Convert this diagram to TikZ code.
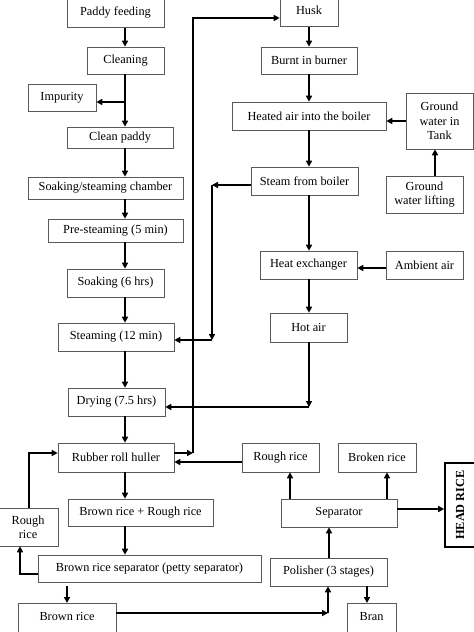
\documentclass[tikz,border=0pt]{standalone}
\usepackage{fontspec}
\setmainfont{Liberation Serif}
\usetikzlibrary{arrows.meta}

\begin{document}
\begin{tikzpicture}[
      x=1pt, y=-1pt,
      font=\fontsize{12.3}{14.4}\selectfont,
      box/.style={draw=black!65, line width=0.6pt, inner sep=0pt, align=center},
      topbox/.style={box, anchor=south, text height=25pt, text depth=12pt},
      botbox/.style={box, anchor=north, text height=17pt, text depth=20pt},
      flow/.style={line width=2pt, -{Triangle[length=6pt,width=6pt]}}
    ]
    \useasboundingbox (0,0) rectangle (474,632);

    % parboiling line (left)
    \node[topbox, minimum width=97] (feed) at (115.5,28) {Paddy feeding};
    \node[box, minimum width=77, minimum height=27] (clean) at (125.5,60.5) {Cleaning};
    \node[box, minimum width=68, minimum height=27] (impur) at (62,97.5) {Impurity};
    \node[box, minimum width=106, minimum height=21] (cpaddy) at (120,137.5) {Clean paddy};
    \node[box, minimum width=155, minimum height=22] (chamber) at (105.5,188) {Soaking/steaming chamber};
    \node[box, minimum width=135, minimum height=23] (prest) at (115.5,230.5) {Pre-steaming (5 min)};
    \node[box, minimum width=97, minimum height=28] (soak) at (115.5,283) {Soaking (6 hrs)};
    \node[box, minimum width=116, minimum height=28] (steam12) at (116,337) {Steaming (12 min)};
    \node[box, minimum width=97, minimum height=28] (dry) at (116.5,402) {Drying (7.5 hrs)};
    \node[box, minimum width=116, minimum height=29] (huller) at (116,457.5) {Rubber roll huller};
    \node[box, minimum width=145, minimum height=27] (brr) at (140.5,512.5) {Brown rice + Rough rice};
    \node[box, minimum width=60, minimum height=38] (roughL) at (28,527) {Rough\\rice};
    \node[box, minimum width=223, minimum height=27] (sep1) at (149.5,568.5) {Brown rice separator (petty separator)};
    \node[botbox, minimum width=98] (brown) at (67,603) {Brown rice};

    % husk / boiler line (right)
    \node[topbox, minimum width=58] (husk) at (309,27) {Husk};
    \node[box, minimum width=96, minimum height=27] (burner) at (309,60.5) {Burnt in burner};
    \node[box, minimum width=154, minimum height=28] (heated) at (309,116) {Heated air into the boiler};
    \node[box, minimum width=67, minimum height=56] (tank) at (439.5,121) {Ground\\water in\\Tank};
    \node[box, minimum width=107, minimum height=28] (steamb) at (304.5,181) {Steam from boiler};
    \node[box, minimum width=77, minimum height=37] (lift) at (424.5,194.5) {Ground\\water lifting};
    \node[box, minimum width=97, minimum height=28] (hx) at (308.5,265) {Heat exchanger};
    \node[box, minimum width=77, minimum height=28] (amb) at (424.5,265) {Ambient air};
    \node[box, minimum width=77, minimum height=29] (hot) at (308.5,327.5) {Hot air};

    % milling (bottom right)
    \node[box, minimum width=77, minimum height=29] (roughR) at (280.5,457.5) {Rough rice};
    \node[box, minimum width=78, minimum height=29] (broken) at (377,457.5) {Broken rice};
    \node[box, minimum width=116, minimum height=28] (sep2) at (339,513) {Separator};
    \node[box, minimum width=117, minimum height=28] (pol) at (328.5,572) {Polisher (3 stages)};
    \node[botbox, minimum width=49] (bran) at (371.5,603) {Bran};
    \node[draw, line width=1.6pt, inner sep=0pt, minimum width=30, minimum height=84]
      (head) at (460,505) {\rotatebox{90}{\bfseries HEAD RICE}};

    % helper coordinates
    \coordinate (spine) at (125,0);
    \coordinate (rspine) at (309,0);
    \coordinate (hd) at (309,407);
    \coordinate (sa) at (212,185);
    \coordinate (sb) at (212,340);
    \coordinate (ha) at (193,453);
    \coordinate (hb) at (193,18);
    \coordinate (wt) at (435,0);
    \coordinate (rr) at (0,462);
    \coordinate (sr) at (290,0);
    \coordinate (sk) at (387,0);
    \coordinate (ps) at (329,0);
    \coordinate (pb) at (367,0);
    \coordinate (bp) at (328,613);
    \coordinate (sl) at (20,574);
    \coordinate (lh) at (29,453);

    % main column
    \foreach \a/\b in {feed/clean, clean/cpaddy, cpaddy/chamber, chamber/prest,
                       prest/soak, soak/steam12, steam12/dry, dry/huller,
                       huller/brr, brr/sep1} {
      \draw[flow] (\a.south -| spine) -- (\b.north -| spine);
    }
    \draw[flow] ([yshift=-4.5pt]impur.east -| spine) -- ([yshift=-4.5pt]impur.east);

    % right column
    \foreach \a/\b in {husk/burner, burner/heated, heated/steamb, steamb/hx, hx/hot} {
      \draw[flow] (\a.south -| rspine) -- (\b.north -| rspine);
    }
    \draw[flow] (tank.west) -- (tank.west -| heated.east);
    \draw[flow] (lift.north -| wt) -- (tank.south -| wt);
    \draw[flow] ([yshift=-3pt]amb.west) -- ([yshift=-3pt]amb.west -| hx.east);

    % heat and steam back to the left
    \draw[flow] (hot.south -| rspine) -- (hd);
    \draw[flow] (hd) -- (hd -| dry.east);
    \draw[flow] (steamb.west |- sa) -- (sa);
    \draw[flow] (sa) -- (sb);
    \draw[flow] (sb) -- (sb -| steam12.east);
    \draw[flow] (huller.east |- ha) -- (ha);
    \draw[flow] (ha) -- (hb) -- (hb -| husk.west);

    % rough rice loops
    \draw[flow] (roughR.west |- rr) -- (huller.east |- rr);
    \draw[flow] (sep1.west |- sl) -- (sl) -- (roughL.south -| sl);
    \draw[flow] (roughL.north -| lh) -- (lh) -- (huller.west |- lh);

    % brown rice to polishing
    \draw[flow] ([yshift=-4pt]sep1.south -| brown.north) -- (brown.north);
    \draw[flow] (brown.east |- bp) -- (bp);
    \draw[flow] (bp) -- (pol.south -| bp);
    \draw[flow] (pol.south -| pb) -- (bran.north -| pb);
    \draw[flow] (pol.north -| ps) -- (sep2.south -| ps);
    \draw[flow] (sep2.north -| sr) -- (roughR.south -| sr);
    \draw[flow] (sep2.north -| sk) -- (broken.south -| sk);
    \draw[flow] ([yshift=4pt]sep2.east) -- ([yshift=4pt]sep2.east -| head.west);
\end{tikzpicture}
\end{document}
